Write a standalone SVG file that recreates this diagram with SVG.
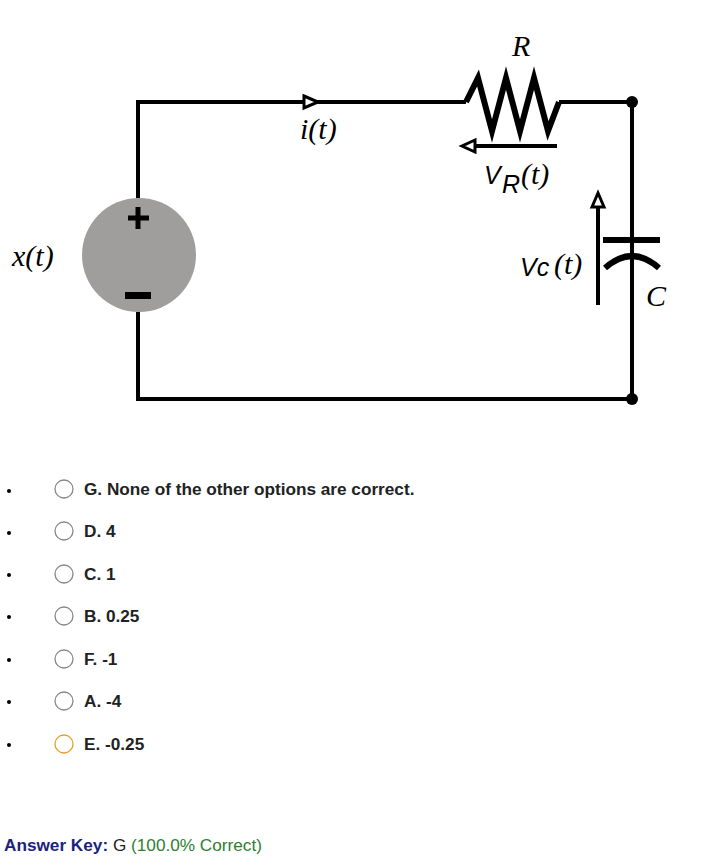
<svg xmlns="http://www.w3.org/2000/svg" width="702" height="868" viewBox="0 0 702 868">
<style>
.w{stroke:#000;stroke-width:4;fill:none}
.s{font-family:"Liberation Serif",serif;font-style:italic;font-size:30px}
.a{font-family:"Liberation Sans",sans-serif;font-style:italic;font-size:25px}
.o{font-family:"Liberation Sans",sans-serif;font-weight:bold;font-size:17.2px;fill:#222}
.r{fill:#fff;stroke:#888;stroke-width:1.3}
</style>
<rect width="702" height="868" fill="#fff"/>
<g id="wires">
<path class="w" d="M138,198 V102 H466 M559,102 H632 V399 H138 V312"/>
<path class="w" d="M632,102 V240 M632,262 V399"/>
<circle cx="632" cy="102" r="6"/><circle cx="632" cy="399" r="6"/>
<path d="M304,96 L318,102 L304,108 Z" fill="#fff" stroke="#000" stroke-width="3"/>
</g>
<g id="source">
<circle cx="139" cy="255" r="57" fill="#a09e9d"/>
<path d="M128,218 H149 M138,207 V229" stroke="#000" stroke-width="5"/>
<rect x="125" y="292" width="26" height="7"/>
<text class="s" x="12" y="266">x(t)</text>
</g>
<g id="resistor">
<path d="M466,102 L478,78 L492,131 L506,78 L520,131 L534,78 L548,131 L559,102" fill="none" stroke="#000" stroke-width="6" stroke-linejoin="miter"/>
<text class="s" x="512" y="56">R</text>
<path class="w" d="M470,146 H557"/>
<path d="M475,140 L462,146 L475,152 Z" fill="#fff" stroke="#000" stroke-width="3"/>
<text class="a" x="484" y="184">V</text><text class="a" x="502" y="193" font-size="18">R</text><text class="s" x="521" y="184">(t)</text>
<text class="s" x="300" y="139">i(t)</text>
</g>
<g id="capacitor">
<path d="M603,240 H660" stroke="#000" stroke-width="6"/>
<path d="M605,268 Q632,244 659,268" fill="none" stroke="#000" stroke-width="6"/>
<path class="w" d="M598,305 V200"/>
<path d="M592,207 L598,193 L604,207 Z" fill="#fff" stroke="#000" stroke-width="3"/>
<text class="a" x="520" y="276">Vc</text><text class="s" x="554" y="274">(t)</text>
<text class="s" x="646" y="306">C</text>
</g>
<g id="options">
<g fill="#000"><circle cx="9" cy="491" r="2"/><circle cx="9" cy="533" r="2"/><circle cx="9" cy="575" r="2"/><circle cx="9" cy="617" r="2"/><circle cx="9" cy="660" r="2"/><circle cx="9" cy="702" r="2"/><circle cx="9" cy="745" r="2"/></g>
<circle class="r" cx="64" cy="489" r="9"/><text class="o" x="84" y="495">G. None of the other options are correct.</text>
<circle class="r" cx="64" cy="531" r="9"/><text class="o" x="84" y="537">D. 4</text>
<circle class="r" cx="64" cy="574" r="9"/><text class="o" x="84" y="580">C. 1</text>
<circle class="r" cx="64" cy="616" r="9"/><text class="o" x="84" y="622">B. 0.25</text>
<circle class="r" cx="64" cy="659" r="9"/><text class="o" x="84" y="665">F. -1</text>
<circle class="r" cx="64" cy="701" r="9"/><text class="o" x="84" y="707">A. -4</text>
<circle cx="64" cy="744" r="9" fill="#fff" stroke="#e0a030" stroke-width="1.3"/><text class="o" x="84" y="750">E. -0.25</text>
</g>
<g id="answer" font-family="Liberation Sans,sans-serif" font-size="17.2">
<text x="4" y="851"><tspan font-weight="bold" fill="#1a237e">Answer Key:</tspan><tspan fill="#222"> G </tspan><tspan fill="#2e7d32">(100.0% Correct)</tspan></text>
</g>
</svg>
